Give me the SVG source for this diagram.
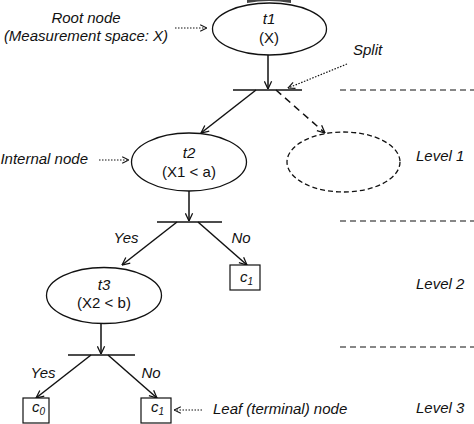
<svg xmlns="http://www.w3.org/2000/svg" width="474" height="424" viewBox="0 0 474 424">
<style>
text{font-family:"Liberation Sans",Arial,sans-serif;font-size:15px;fill:#111}
.i{font-style:italic}
.m{text-anchor:middle}
.node{fill:#fff;stroke:#111;stroke-width:1.3}
.box{fill:#fff;stroke:#111;stroke-width:1.2}
.edge{fill:none;stroke:#111;stroke-width:1.5;marker-end:url(#ah)}
.dedge{fill:none;stroke:#111;stroke-width:1.5;stroke-dasharray:7,5;marker-end:url(#ah)}
.bar{stroke:#111;stroke-width:1.5}
.dot{fill:none;stroke:#111;stroke-width:1.2;stroke-dasharray:1.5,1.5;marker-end:url(#ahs)}
.lvl{stroke:#111;stroke-width:1.2;stroke-dasharray:6,4}
.sub{font-size:10px}
</style>
<defs>
<marker id="ah" viewBox="0 0 10 10" refX="9.5" refY="5" markerWidth="9" markerHeight="9" markerUnits="userSpaceOnUse" orient="auto">
<path d="M1,1 L9.5,5 L1,9" fill="none" stroke="#111" stroke-width="1.4"/>
</marker>
<marker id="ahs" viewBox="0 0 10 10" refX="9.5" refY="5" markerWidth="8" markerHeight="8" markerUnits="userSpaceOnUse" orient="auto">
<path d="M1,1 L9.5,5 L1,9" fill="none" stroke="#111" stroke-width="1.4"/>
</marker>
</defs>

<g id="levels">
<line class="lvl" x1="340" y1="90" x2="474" y2="90"/>
<line class="lvl" x1="340" y1="221" x2="474" y2="221"/>
<line class="lvl" x1="340" y1="347" x2="474" y2="347"/>
<text class="i" x="416" y="161">Level 1</text>
<text class="i" x="416" y="289">Level 2</text>
<text class="i" x="416" y="413">Level 3</text>
</g>

<g id="connectors">
<line class="bar" x1="233" y1="90" x2="302" y2="90"/>
<line class="bar" x1="157" y1="222" x2="222" y2="222"/>
<line class="bar" x1="68" y1="355" x2="135" y2="355"/>
<path class="edge" d="M268,55 L268,89"/>
<path class="edge" d="M256,90 L201,133"/>
<path class="dedge" d="M276,90 L325,133"/>
<path class="edge" d="M189,191 L189,221"/>
<path class="edge" d="M177,222 L122,265"/>
<path class="edge" d="M198,222 L247,265"/>
<path class="edge" d="M101,323 L101,354"/>
<path class="edge" d="M91,355 L36,398"/>
<path class="edge" d="M108,355 L157,398"/>
<path class="dot" d="M175,28 L207,28"/>
<path class="dot" d="M347,64 L288,88"/>
<path class="dot" d="M99,160 L129,160"/>
<path class="dot" d="M202,410 L174,410"/>
<text class="i m" x="126" y="243">Yes</text>
<text class="i m" x="241" y="243">No</text>
<text class="i m" x="43" y="378">Yes</text>
<text class="i m" x="151" y="378">No</text>
</g>

<g id="labels">
<text class="i m" x="86" y="23">Root node</text>
<text class="i m" x="86" y="41">(Measurement space: X)</text>
<text class="i" x="353" y="55">Split</text>
<text class="i" x="88" y="164" text-anchor="end">Internal node</text>
<text class="i" x="213" y="414">Leaf (terminal) node</text>
</g>

<g id="t1">
<path d="M247,3 Q269,-1 291,3 L291,0 L247,0 Z" fill="#444"/>
<ellipse class="node" cx="269.5" cy="29" rx="57" ry="26"/>
<text class="i m" x="269" y="24">t1</text>
<text class="m" x="269" y="43">(X)</text>
</g>

<g id="t2">
<ellipse class="node" cx="189" cy="162" rx="57.5" ry="29"/>
<text class="i m" x="189" y="158">t2</text>
<text class="m" x="189" y="177">(X1 &lt; a)</text>
</g>

<g id="t2b">
<ellipse cx="343.5" cy="162" rx="56.5" ry="30" fill="none" stroke="#111" stroke-width="1.3" stroke-dasharray="5,3"/>
</g>

<g id="leaf1">
<rect class="box" x="230" y="265" width="30" height="25"/>
<text class="i" x="240" y="282">c<tspan class="sub" dy="3">1</tspan></text>
</g>

<g id="t3">
<ellipse class="node" cx="104" cy="295.5" rx="57.5" ry="28"/>
<text class="i m" x="104" y="290">t3</text>
<text class="m" x="104" y="308">(X2 &lt; b)</text>
</g>

<g id="leaf0">
<rect class="box" x="23" y="398" width="26" height="25"/>
<text class="i" x="32" y="412">c<tspan class="sub" dy="3">0</tspan></text>
</g>

<g id="leaf2">
<rect class="box" x="141" y="398" width="30" height="25"/>
<text class="i" x="151" y="412">c<tspan class="sub" dy="3">1</tspan></text>
</g>
</svg>
